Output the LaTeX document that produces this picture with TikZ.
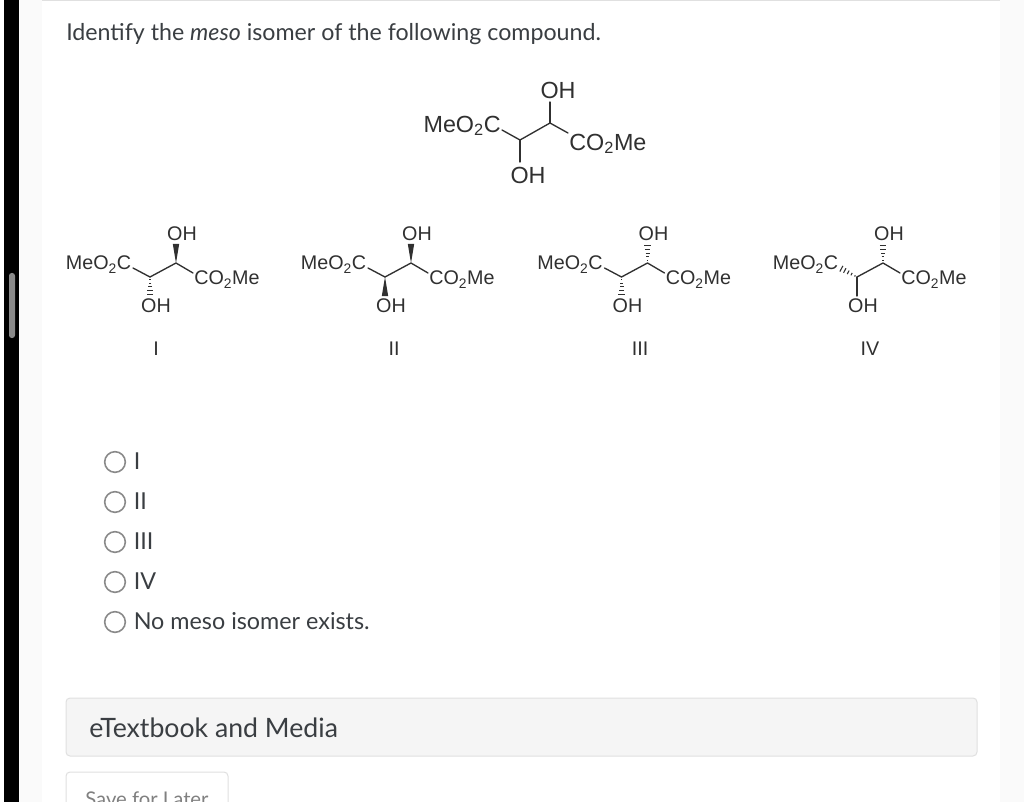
\documentclass[tikz,border=0pt]{standalone}
\usepackage{fontspec}
\usetikzlibrary{calc}
\setmainfont{Lato}
\newfontfamily\molfont{Liberation Sans}
\definecolor{ink}{HTML}{3A3E42}
\definecolor{chem}{HTML}{303030}
\definecolor{panel}{HTML}{FAFAFA}
\definecolor{boxfill}{HTML}{F5F5F5}
\definecolor{boxline}{HTML}{E0E0E0}
\definecolor{radio}{HTML}{8A8A8A}
\tikzset{
 x=0.75pt,y=-0.75pt,
 qtext/.style={font=\fontsize{17.4}{20}\selectfont,text=ink,inner sep=0,anchor=base west},
 opttext/.style={font=\fontsize{17.5}{20}\selectfont,text=ink,inner sep=0,anchor=base west},
 radiobtn/.style={circle,draw=radio,line width=1.2pt,fill=white,minimum size=15.5pt,inner sep=0},
 chemlabel/.style={font=\molfont\fontsize{17.5}{18}\selectfont,text=chem,inner sep=0},
 chemsmall/.style={font=\molfont\fontsize{14.8}{16}\selectfont,text=chem,inner sep=0},
 bond/.style={draw=chem,line width=1pt,line cap=round,line join=round},
}
% bond styles
\newcommand{\plainbond}[2]{\draw[bond] (#1) -- (#2);}
\newcommand{\wedgebond}[2]{\fill[chem] (#1) -- ($(#2)!2.4pt!90:(#1)$) -- ($(#2)!2.4pt!-90:(#1)$) -- cycle;}
\newcommand{\hashbond}[2]{%
 \foreach \t/\w in {0.12/0.5,0.32/1,0.52/1.5,0.72/2,0.92/2.4}{%
  \draw[chem,line width=0.8pt] ($($(#1)!\t!(#2)$)!\w pt!90:(#2)$) -- ($($(#1)!\t!(#2)$)!\w pt!-90:(#2)$);}}
% \smallmol{id}{x shift}{left bond}{down bond}{up bond}{numeral}{numeral x}
\newcommand{\smallmol}[7]{%
 \coordinate (e1#1) at (#2+133,268);
 \coordinate (c2#1) at (#2+150,277);
 \coordinate (c3#1) at (#2+176,263);
 \coordinate (e4#1) at (#2+193,273);
 \coordinate (up#1) at (#2+176,244);
 \coordinate (dn#1) at (#2+150,296);
 #3{c2#1}{e1#1}
 \draw[bond] (c2#1) -- (c3#1) -- (e4#1);
 #4{c2#1}{dn#1}
 #5{c3#1}{up#1}
 \node[chemsmall,anchor=base east] (l#1) at (#2+131.5,270) {MeO\textsubscript{2}C};
 \node[chemsmall,anchor=base west] (r#1) at (#2+194,285) {CO\textsubscript{2}Me};
 \node[chemsmall] (ou#1) at (#2+182,233.5) {OH};
 \node[chemsmall] (od#1) at (#2+156,305.5) {OH};
 \node[chemsmall] (n#1) at (#7,349) {#6};
}
\begin{document}
\begin{tikzpicture}
\useasboundingbox (0,0) rectangle (1024,802);
% page chrome
\fill[white] (0,0) rectangle (1024,802);
\fill[panel] (19,0) rectangle (42,802);
\fill[panel] (1000,0) rectangle (1024,802);
\fill[black] (4,0) rectangle (19,802);
\fill[radio,rounded corners=2pt] (9,273) rectangle (15,338);
\draw[boxline,line width=0.75pt] (42,0.5) -- (1000,0.5);
% question
\node[qtext] (q) at (66,41) {Identify the \textit{meso} isomer of the following compound.};
% main molecule
\coordinate (e1) at (502,130);
\coordinate (c2) at (520,140);
\coordinate (c3) at (550,123);
\coordinate (e4) at (568,133);
\coordinate (up) at (550,102);
\coordinate (dn) at (520,162);
\draw[bond] (e1) -- (c2) -- (c3) -- (e4);
\draw[bond] (c3) -- (up);
\draw[bond] (c2) -- (dn);
\node[chemlabel,anchor=base east] (ml) at (501,132.5) {MeO\textsubscript{2}C};
\node[chemlabel,anchor=base west] (mr) at (569,150.5) {CO\textsubscript{2}Me};
\node[chemlabel] (mu) at (558,90) {OH};
\node[chemlabel] (md) at (528,175) {OH};
% isomers
\smallmol{a}{0}{\plainbond}{\hashbond}{\wedgebond}{I}{156}
\smallmol{b}{235}{\plainbond}{\wedgebond}{\wedgebond}{II}{394}
\smallmol{c}{471.5}{\plainbond}{\hashbond}{\hashbond}{III}{640}
\smallmol{d}{707}{\hashbond}{\plainbond}{\hashbond}{IV}{870}
% options
\node[radiobtn] (r1) at (115,462) {};
\node[radiobtn] (r2) at (115,502) {};
\node[radiobtn] (r3) at (115,542) {};
\node[radiobtn] (r4) at (115,582) {};
\node[radiobtn] (r5) at (115,622) {};
\node[opttext] (t1) at (133.5,469.5) {I};
\node[opttext] (t2) at (133.5,509.5) {II};
\node[opttext] (t3) at (133.5,549.5) {III};
\node[opttext] (t4) at (133.5,589.5) {IV};
\node[opttext] (t5) at (133.5,629.5) {No meso isomer exists.};
% media box
\draw[boxline,fill=boxfill,line width=0.75pt,rounded corners=3pt] (66,698) rectangle (977,756);
\node[qtext,font=\fontsize{20}{22}\selectfont] (m) at (89,737) {eTextbook and Media};
% save button
\draw[boxline,fill=white,line width=0.75pt,rounded corners=3pt] (66,772) rectangle (228,830);
\node[qtext,font=\fontsize{15.2}{16}\selectfont,text=gray] (s) at (85,806) {Save for Later};
\end{tikzpicture}
\end{document}
